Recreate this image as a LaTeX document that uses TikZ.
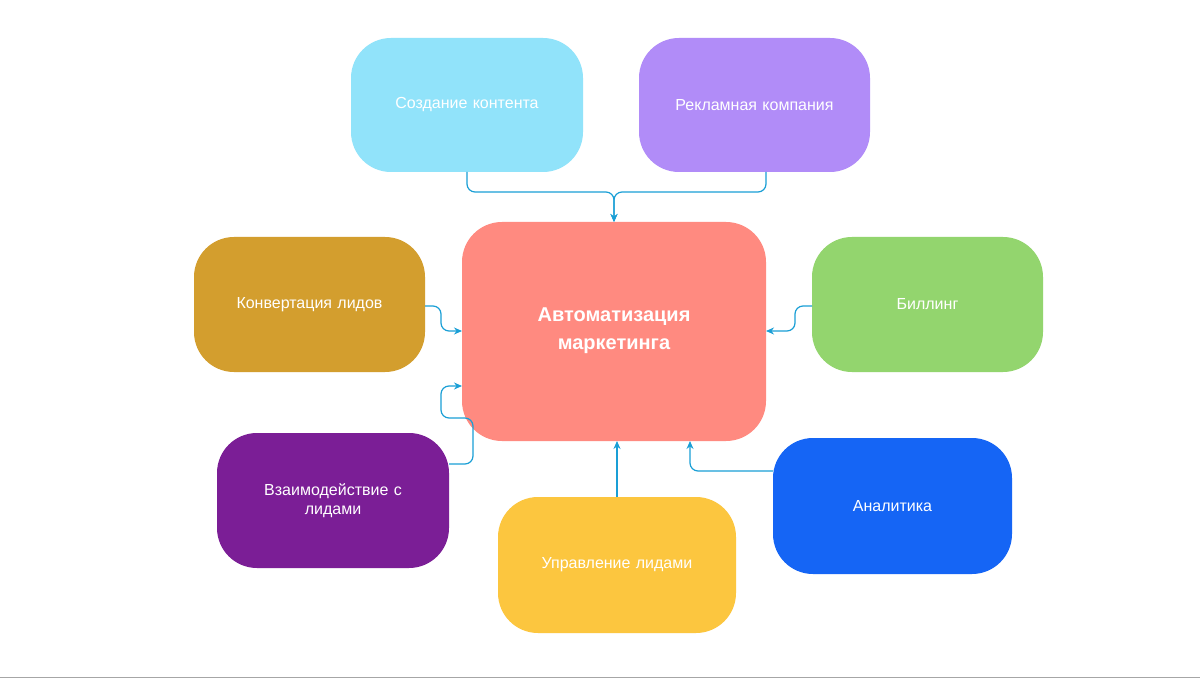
\documentclass[tikz,border=0pt]{standalone}
\usepackage{fontspec}
\setmainfont{Liberation Sans}
\usetikzlibrary{arrows.meta}
\definecolor{cA}{HTML}{91E3FA}
\definecolor{cB}{HTML}{B18CF8}
\definecolor{cC}{HTML}{FF8A80}
\definecolor{cD}{HTML}{D39E2E}
\definecolor{cE}{HTML}{93D56E}
\definecolor{cF}{HTML}{7B1E96}
\definecolor{cG}{HTML}{FCC63F}
\definecolor{cH}{HTML}{1565F5}
\definecolor{ln}{HTML}{1A9FD6}
\tikzset{
  box/.style={rounded corners=40pt, text=white, font=\fontsize{16}{19}\selectfont, align=center},
  conn/.style={draw=ln, line width=1.2pt, rounded corners=8pt, -{Stealth[length=8pt,width=7pt]}}
}
\begin{document}
\begin{tikzpicture}[x=1pt,y=-1pt]
\useasboundingbox (0,0) rectangle (1200,679);
\fill[white] (0,0) rectangle (1200,679);
\draw[gray!70, line width=1pt] (0,677) -- (1200,677);
\newcommand{\bx}[7]{\fill[#6, rounded corners=40pt] (#2,#3) rectangle (#4,#5);
  \node[box, text width=#4pt-#2pt-30pt] (#1) at ({(#2+#4)/2},{(#3+#5)/2}) {#7};
  \coordinate (#1-nw) at (#2,#3); \coordinate (#1-se) at (#4,#5);}
\bx{a}{351}{38}{583}{172}{cA}{Создание контента}
\bx{b}{639}{38}{870}{172}{cB}{Рекламная компания}
\fill[cC, rounded corners=40pt] (462,222) rectangle (766,441);
\node[box, font=\bfseries\fontsize{20}{28}\selectfont] (c) at (614,331) {Автоматизация\\маркетинга};
\bx{d}{194}{237}{425}{372}{cD}{Конвертация лидов}
\bx{e}{812}{237}{1043}{372}{cE}{Биллинг}
\bx{f}{217}{433}{449}{568}{cF}{Взаимодействие с\\лидами}
\bx{g}{498}{497}{736}{633}{cG}{Управление лидами}
\bx{h}{773}{438}{1012}{574}{cH}{Аналитика}
\coordinate (ct) at (614,222);
\coordinate (as) at (467,172);
\coordinate (bs) at (766,172);
\draw[conn] (as) -- (467,192) -- (614,192) -- (ct);
\draw[conn] (bs) -- (766,192) -- (614,192) -- (ct);
\draw[conn] (425,306) -- (441,306) -- (441,331) -- (462,331);
\draw[conn] (812,306) -- (795,306) -- (795,331) -- (766,331);
\draw[conn] (449,464) -- (473,464) -- (473,418) -- (441,418) -- (441,386) -- (462,386);
\draw[conn] (617,497) -- (617,441);
\draw[conn] (773,471) -- (690,471) -- (690,441);
\end{tikzpicture}
\end{document}
